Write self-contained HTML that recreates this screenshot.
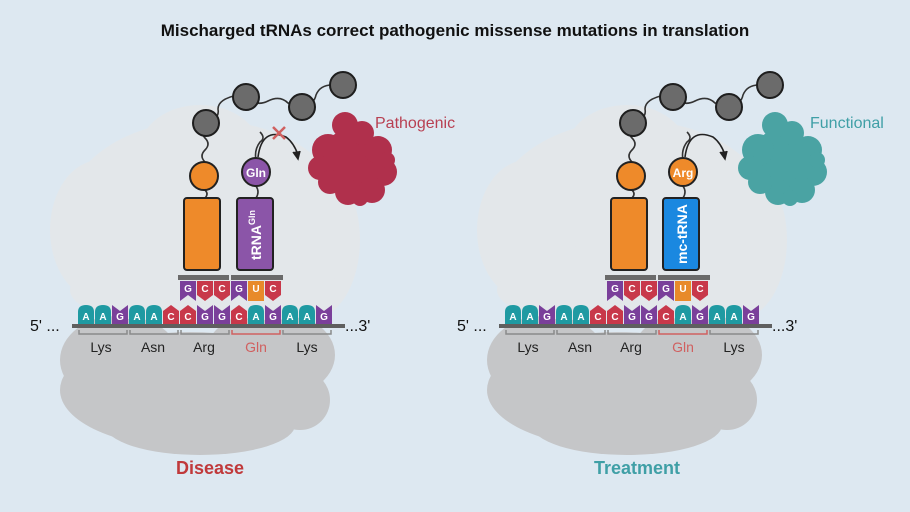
<!DOCTYPE html>
<html><head><meta charset="utf-8"><style>
html,body{margin:0;padding:0;background:#dde8f1;}
svg{display:block;font-family:"Liberation Sans",sans-serif;}
</style></head><body>
<svg width="910" height="512" viewBox="0 0 910 512">
<defs>
<path id="tA" d="M0,20 V7 Q0,0 8,0 Q16,0 16,7 V20 Z" fill="#1f9aa2"/>
<path id="tG" d="M0,20 V0 L8,6 L16,0 V20 Z" fill="#7a3f9a"/>
<path id="tC" d="M0,20 V6 L8,0 L16,6 V20 Z" fill="#c8384a"/>
<path id="tU" d="M0,20 V0 H16 V20 Z" fill="#e88a2a"/>
<g id="panel">
  <g fill="#c5c6c8">
    <ellipse cx="190" cy="390" rx="130" ry="58"/>
    <ellipse cx="120" cy="360" rx="60" ry="45"/>
    <ellipse cx="270" cy="355" rx="65" ry="45"/>
    <ellipse cx="200" cy="425" rx="95" ry="30"/>
    <circle cx="300" cy="400" r="30"/>
  </g>
  <g fill="#e4e7ea" opacity="0.92">
    <ellipse cx="205" cy="215" rx="140" ry="95"/>
    <ellipse cx="100" cy="230" rx="50" ry="70"/>
    <ellipse cx="310" cy="240" rx="50" ry="80"/>
    <ellipse cx="200" cy="150" rx="60" ry="45"/>
    <ellipse cx="150" cy="290" rx="80" ry="30"/>
    <ellipse cx="270" cy="290" rx="70" ry="30"/>
  </g>
  <g fill="none" stroke="#333" stroke-width="1.6">
    <path d="M205,162 q-6,-6 0,-12 q6,-6 0,-12 q-4,-4 0,-8"/>
    <path d="M206,123 q14,-4 12,-14 q0,-10 20,-14 l8,2"/>
    <path d="M246,97 q10,10 22,4 q12,-6 20,2 l14,4"/>
    <path d="M302,107 q12,-2 14,-12 q4,-10 16,-10 l11,0"/>
    <path d="M205,190 q4,4 0,8"/>
  </g>
  <g fill="#6b6b6b" stroke="#1e1e1e" stroke-width="2">
    <circle cx="206" cy="123" r="13"/>
    <circle cx="246" cy="97" r="13"/>
    <circle cx="302" cy="107" r="13"/>
    <circle cx="343" cy="85" r="13"/>
  </g>
  <circle cx="204" cy="176" r="14" fill="#ee8a2a" stroke="#222" stroke-width="2"/>
  <rect x="184" y="198" width="36" height="72" rx="3" fill="#ee8a2a" stroke="#222" stroke-width="2"/>
  <rect x="178" y="275" width="51" height="5" fill="#6a6a6a"/>
  <rect x="231" y="275" width="52" height="5" fill="#6a6a6a"/>
  <g transform="translate(0,301) scale(1,-1)">
    <use href="#tG" x="180" y="0"/><use href="#tC" x="197" y="0"/><use href="#tC" x="214" y="0"/>
    <use href="#tG" x="231" y="0"/><use href="#tU" x="248" y="0"/><use href="#tC" x="265" y="0"/>
  </g>
  <g fill="#fff" font-size="10" font-weight="bold" text-anchor="middle">
    <text x="188" y="292">G</text><text x="205" y="292">C</text><text x="222" y="292">C</text>
    <text x="239" y="292">G</text><text x="256" y="292">U</text><text x="273" y="292">C</text>
  </g>
  <g transform="translate(0,305)">
    <use href="#tA" x="78"/><use href="#tA" x="95"/><use href="#tG" x="112"/>
    <use href="#tA" x="129"/><use href="#tA" x="146"/><use href="#tC" x="163"/>
    <use href="#tC" x="180"/><use href="#tG" x="197"/><use href="#tG" x="214"/>
    <use href="#tC" x="231"/><use href="#tA" x="248"/><use href="#tG" x="265"/>
    <use href="#tA" x="282"/><use href="#tA" x="299"/><use href="#tG" x="316"/>
  </g>
  <g fill="#fff" font-size="10" font-weight="bold" text-anchor="middle">
    <text x="86" y="320">A</text><text x="103" y="320">A</text><text x="120" y="320">G</text>
    <text x="137" y="320">A</text><text x="154" y="320">A</text><text x="171" y="320">C</text>
    <text x="188" y="320">C</text><text x="205" y="320">G</text><text x="222" y="320">G</text>
    <text x="239" y="320">C</text><text x="256" y="320">A</text><text x="273" y="320">G</text>
    <text x="290" y="320">A</text><text x="307" y="320">A</text><text x="324" y="320">G</text>
  </g>
  <rect x="72" y="324" width="273" height="4" fill="#5f5f5f"/>
  <g fill="none" stroke="#8a8a8a" stroke-width="1.5">
    <path d="M79,330 v4 h48 v-4"/><path d="M130,330 v4 h48 v-4"/><path d="M181,330 v4 h48 v-4"/>
    <path d="M283,330 v4 h48 v-4"/>
  </g>
  <path d="M232,330 v4 h48 v-4" fill="none" stroke="#d06060" stroke-width="1.5"/>
  <g font-size="14" fill="#222" text-anchor="middle">
    <text x="101" y="352">Lys</text><text x="153" y="352">Asn</text><text x="204" y="352">Arg</text>
    <text x="256" y="352" fill="#d06060">Gln</text><text x="307" y="352">Lys</text>
  </g>
  <text x="30" y="331" font-size="16" fill="#111">5' ...</text>
  <text x="345" y="331" font-size="16" fill="#111">...3'</text>
</g>
<g id="blob">
  <circle cx="350" cy="160" r="30"/><circle cx="328" cy="150" r="16"/><circle cx="320" cy="168" r="12"/>
  <circle cx="345" cy="125" r="13"/><circle cx="362" cy="133" r="12"/><circle cx="378" cy="150" r="14"/>
  <circle cx="383" cy="172" r="14"/><circle cx="372" cy="190" r="13"/><circle cx="348" cy="192" r="13"/>
  <circle cx="330" cy="182" r="12"/><circle cx="360" cy="198" r="8"/><circle cx="387" cy="160" r="8"/>
</g>
</defs>

<text x="455" y="36" font-size="17" font-weight="bold" text-anchor="middle" fill="#111">Mischarged tRNAs correct pathogenic missense mutations in translation</text>

<use href="#panel"/>
<use href="#panel" transform="translate(427,0)"/>

<path d="M256,160 q-2,-10 4,-18 q6,-4 0,-10" fill="none" stroke="#333" stroke-width="1.6"/>
<path d="M256,186 q4,6 0,12" fill="none" stroke="#333" stroke-width="1.6"/>
<circle cx="256" cy="172" r="14" fill="#8b55a8" stroke="#222" stroke-width="2"/>
<text x="256" y="177" font-size="12" font-weight="bold" fill="#fff" text-anchor="middle">Gln</text>
<rect x="237" y="198" width="36" height="72" rx="3" fill="#8b55a8" stroke="#222" stroke-width="2"/>
<text transform="translate(261,260) rotate(-90)" font-size="14" font-weight="bold" fill="#fff">tRNA<tspan font-size="9" dy="-6">Gln</tspan></text>
<path d="M258,157 q4,-30 28,-20 q8,6 12,18" fill="none" stroke="#222" stroke-width="1.6"/>
<path d="M293,152 l5,7 l2,-8" fill="#222" stroke="#222" stroke-width="1.5"/>
<path d="M273,127 l12,12 M285,127 l-12,12" stroke="#d06060" stroke-width="2.5"/>
<use href="#blob" fill="#b0304c"/>
<text x="375" y="128" font-size="16" fill="#b84052">Pathogenic</text>
<text x="210" y="474" font-size="18" font-weight="bold" fill="#c0393b" text-anchor="middle">Disease</text>

<path d="M683,160 q-2,-10 4,-18 q6,-4 0,-10" fill="none" stroke="#333" stroke-width="1.6"/>
<path d="M683,186 q4,6 0,12" fill="none" stroke="#333" stroke-width="1.6"/>
<circle cx="683" cy="172" r="14" fill="#ee8a2a" stroke="#222" stroke-width="2"/>
<text x="683" y="177" font-size="12" font-weight="bold" fill="#fff" text-anchor="middle">Arg</text>
<rect x="663" y="198" width="36" height="72" rx="3" fill="#1a88e0" stroke="#222" stroke-width="2"/>
<text transform="translate(687,264) rotate(-90)" font-size="14" font-weight="bold" fill="#fff">mc-tRNA</text>
<path d="M685,157 q4,-30 28,-20 q8,6 12,18" fill="none" stroke="#222" stroke-width="1.6"/>
<path d="M720,152 l5,7 l2,-8" fill="#222" stroke="#222" stroke-width="1.5"/>
<use href="#blob" fill="#4aa3a3" transform="translate(430,0)"/>
<text x="810" y="128" font-size="16" fill="#3f9fa6">Functional</text>
<text x="637" y="474" font-size="18" font-weight="bold" fill="#3f9fa6" text-anchor="middle">Treatment</text>
</svg>
</body></html>
